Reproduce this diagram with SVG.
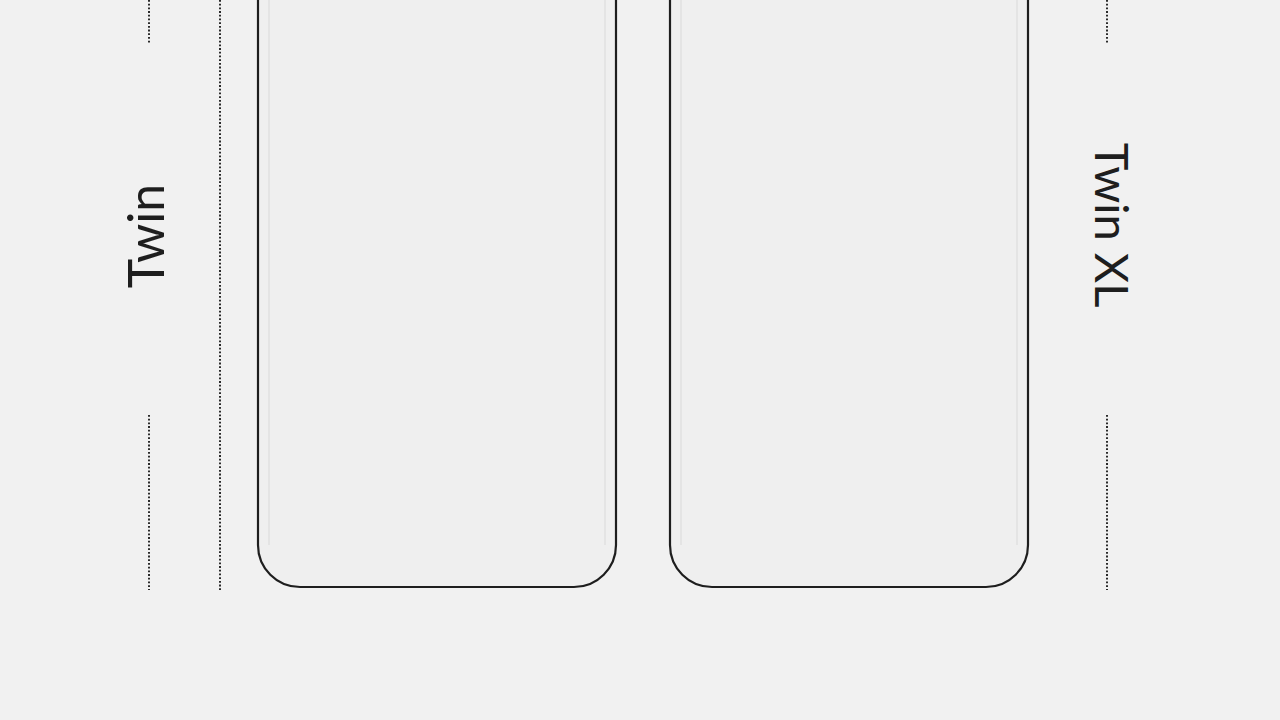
<svg xmlns="http://www.w3.org/2000/svg" width="1280" height="720" viewBox="0 0 1280 720">
<style>
.bed{fill:#efefef;stroke:#1e1e1e;stroke-width:2.2}
.inner{fill:none;stroke:#dcdcdc;stroke-width:1.2}
.dot{stroke:#2a2a2a;stroke-width:2;stroke-dasharray:1.8 1.9;fill:none}
.lbl{font-family:"Lato","Open Sans",sans-serif;font-weight:400;fill:#1e1e1e}
</style>
<rect width="1280" height="720" fill="#f1f1f1"/>
<g id="guides">
<line class="dot" x1="149" y1="0" x2="149" y2="44"/>
<line class="dot" x1="149" y1="415" x2="149" y2="590"/>
<line class="dot" x1="220" y1="0" x2="220" y2="590"/>
<line class="dot" x1="1107" y1="0" x2="1107" y2="44"/>
<line class="dot" x1="1107" y1="415" x2="1107" y2="590"/>
</g>
<g id="bed-twin">
<path class="bed" d="M258,-5 V545 A42,42 0 0 0 300,587 H574 A42,42 0 0 0 616,545 V-5"/>
<path class="inner" d="M269,0 V545 M605,0 V545"/>
</g>
<g id="bed-twinxl">
<path class="bed" d="M670,-5 V545 A42,42 0 0 0 712,587 H986 A42,42 0 0 0 1028,545 V-5"/>
<path class="inner" d="M681,0 V545 M1017,0 V545"/>
</g>
<g id="label-twin">
<text class="lbl" font-size="50" transform="translate(164,236) rotate(-90)" text-anchor="middle">Twin</text>
</g>
<g id="label-twinxl">
<text class="lbl" font-size="47" transform="translate(1095,225) rotate(90)" text-anchor="middle">Twin XL</text>
</g>
</svg>
